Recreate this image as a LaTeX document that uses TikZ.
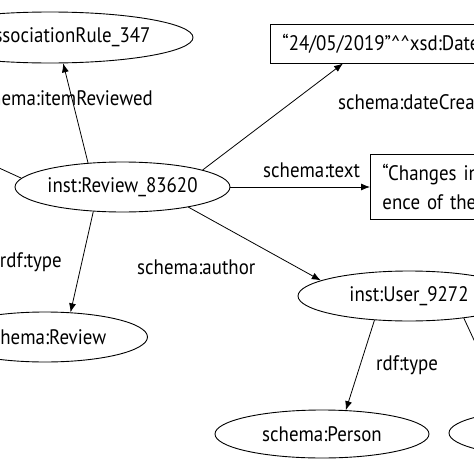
\documentclass[tikz,border=0pt]{standalone}
\usepackage{fontspec}
\setmainfont[FakeStretch=0.9]{PT Sans}
\usetikzlibrary{arrows.meta,shapes.geometric}
\begin{document}
\begin{tikzpicture}[x=1pt,y=-1pt,
  ent/.style={ellipse, draw, line width=0.9pt, inner sep=0pt, font=\fontsize{21}{24}\selectfont},
  lit/.style={rectangle, draw, line width=0.9pt, inner ysep=0pt, inner xsep=12pt, font=\fontsize{21}{29}\selectfont},
  lbl/.style={inner sep=0pt, font=\fontsize{21}{24}\selectfont},
  arr/.style={-{Latex[length=9pt,width=7pt]}, line width=0.8pt}]
\useasboundingbox (0,0) rectangle (474,474);
\clip (0,0) rectangle (474,474);
\fill[white] (0,0) rectangle (474,474);

\node[ent, minimum width=286pt, minimum height=51pt] (assoc) at (50,37.5) {inst:AssociationRule\_347};
\node[ent, minimum width=215pt, minimum height=50pt] (review) at (122.5,187) {inst:Review\_83620};
\node[lit, anchor=west, minimum height=39pt] (date) at (270,43.5) {“24/05/2019”\textasciicircum\textasciicircum xsd:Date};
\node[lit, anchor=west, minimum height=65pt, text width=150pt, align=left] (changes) at (370,187) {“Changes in\\ence of the};
\node[ent, minimum width=205pt, minimum height=50pt] (schemaReview) at (45,337) {schema:Review};
\node[ent, minimum width=222pt, minimum height=50pt] (user) at (409,296) {inst:User\_9272};
\node[ent, minimum width=214pt, minimum height=48pt] (person) at (322,434) {schema:Person};
\node[ent, minimum width=214pt, minimum height=48pt] (other) at (556,433) {};
\coordinate (offleft) at (-60,141);

\draw[arr] (review.145.5) -- (assoc.-63);
\draw[arr] (review.12.6) -- ([xshift=73pt]date.south west);
\draw[arr] (review.east) -- (changes.west);
\draw[arr] (review.-17.2) -- (user.170.5);
\draw[arr] (review.-140.9) -- (schemaReview.44);
\draw[arr] (review.175.8) -- (offleft);
\draw[arr] (user.-145.9) -- (person.45.5);
\draw[arr] (user.-22) -- (other.156);

\node[lbl, anchor=east] (l1) at (153,98) {schema:itemReviewed};
\node[lbl, anchor=west] (l2) at (338,102) {schema:dateCreated};
\node[lbl, anchor=west] (l3) at (263,170) {schema:text};
\node[lbl, anchor=east] (l4) at (62,262) {rdf:type};
\node[lbl, anchor=west] (l5) at (137,267) {schema:author};
\node[lbl, anchor=west] (l6) at (376,365) {rdf:type};
\end{tikzpicture}
\end{document}
